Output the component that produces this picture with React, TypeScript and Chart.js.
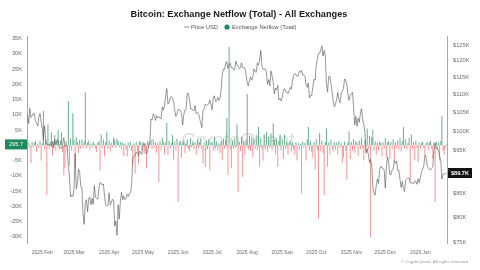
import React, { useEffect, useRef } from "react";
import { Chart, registerables } from "chart.js";

Chart.register(...registerables);

// Daily series, first day 2025-01-19
const START_DATE = "2025-01-19";
const MONTH_NAMES = ["Jan", "Feb", "Mar", "Apr", "May", "Jun", "Jul", "Aug", "Sep", "Oct", "Nov", "Dec"];
const TITLE = "Bitcoin: Exchange Netflow (Total) - All Exchanges";
const PRICE_LABEL = "Price USD";
const NETFLOW_LABEL = "Exchange Netflow (Total)";
const COPYRIGHT = "© CryptoQuant. All rights reserved";
const WATERMARK = "CryptoQuant";

// BTC price, thousand USD
const PRICE_USD_K = [
  // Jan 2025 (from 19th)
  104.4, 102.0, 106.1, 103.6, 104.0, 104.7, 104.7, 102.6, 102.1, 101.3, 103.7, 104.7, 102.4,
  // Feb
  100.6, 97.7, 101.4, 97.9, 96.6, 96.6, 96.5, 96.5, 96.1, 97.4, 95.7, 97.9, 96.6, 97.5,
  97.6, 96.1, 95.8, 95.5, 96.6, 98.3, 96.1, 96.5, 96.1, 91.5, 88.7, 84.3, 84.7, 84.4,
  // Mar
  86.0, 94.3, 86.1, 87.2, 90.6, 89.9, 86.7, 86.2, 80.7, 78.5, 82.9, 83.7, 81.1, 83.9, 84.3, 82.6,
  84.0, 82.7, 86.8, 84.2, 84.0, 83.8, 86.1, 87.5, 87.4, 86.9, 87.2, 84.4, 82.6, 82.3, 82.5,
  // Apr
  85.2, 82.5, 83.1, 83.8, 83.5, 78.2, 79.2, 76.3, 82.6, 79.6, 83.4, 85.3, 83.7, 84.5, 83.7,
  84.0, 84.9, 84.4, 85.1, 85.2, 87.5, 93.4, 93.7, 93.9, 94.7, 94.6, 93.8, 95.0, 94.3, 94.2,
  // May
  96.5, 96.9, 95.9, 94.3, 94.7, 96.8, 97.0, 103.2, 102.9, 104.6, 104.1, 102.8, 104.1, 103.5, 103.7, 103.5,
  103.2, 106.5, 105.6, 106.8, 109.7, 111.7, 107.3, 107.8, 109.0, 109.4, 108.9, 107.8, 105.6, 103.9, 104.6,
  // Jun
  105.7, 105.8, 105.4, 104.7, 101.6, 104.4, 105.6, 105.7, 110.3, 110.3, 108.7, 105.9, 106.0, 105.5, 105.5,
  106.8, 104.6, 104.9, 104.6, 103.3, 102.1, 100.9, 105.6, 106.0, 107.3, 106.9, 107.1, 107.3, 108.4, 107.1,
  // Jul
  105.7, 108.8, 109.6, 108.0, 108.2, 109.2, 108.3, 108.9, 111.3, 115.9, 117.5, 117.4, 119.1, 119.8, 117.7, 118.7,
  119.3, 117.9, 117.9, 117.3, 117.4, 119.9, 118.8, 118.3, 117.6, 117.9, 119.4, 118.0, 117.9, 117.8, 115.8,
  // Aug
  113.3, 112.5, 114.2, 115.1, 114.1, 115.0, 117.5, 116.7, 116.5, 119.3, 118.7, 120.2, 123.3, 118.4, 117.4, 117.5,
  117.5, 116.3, 112.9, 114.3, 112.5, 116.9, 115.4, 113.5, 110.1, 111.8, 111.3, 112.6, 108.4, 108.8, 108.2,
  // Sep
  109.2, 111.2, 111.7, 110.7, 110.7, 110.2, 111.1, 112.0, 111.5, 113.9, 115.5, 116.1, 115.9, 115.3, 115.4,
  116.8, 116.5, 117.1, 115.7, 115.7, 115.3, 112.7, 112.0, 113.3, 109.0, 109.7, 109.7, 112.1, 114.4, 114.1,
  // Oct
  118.6, 120.6, 122.3, 122.4, 123.5, 124.8, 121.5, 123.3, 121.7, 113.2, 110.7, 115.2, 115.3, 113.1, 110.8, 108.2,
  106.5, 107.2, 108.6, 110.6, 108.5, 107.6, 110.1, 111.0, 111.6, 114.5, 114.1, 112.9, 110.1, 108.3, 109.6,
  // Nov
  110.1, 110.6, 106.5, 101.6, 103.9, 101.3, 103.4, 102.3, 104.7, 106.0, 103.1, 101.7, 99.7, 94.4, 95.5,
  94.2, 92.2, 92.9, 91.5, 86.6, 85.1, 84.7, 86.8, 88.3, 87.3, 90.5, 91.3, 90.9, 90.8, 90.4,
  // Dec
  86.3, 91.3, 93.5, 92.1, 89.4, 89.3, 90.4, 90.6, 92.7, 92.0, 92.5, 90.3, 90.3, 88.2, 86.4, 87.8,
  86.1, 85.5, 88.1, 88.3, 88.6, 88.5, 87.5, 87.6, 87.2, 87.3, 87.8, 87.8, 87.1, 88.4, 87.5,
  // Jan 2026
  88.7, 90.0, 90.6, 91.4, 93.9, 93.7, 91.3, 91.0, 90.5, 90.4, 90.8, 91.2, 95.3, 97.0, 95.6, 95.5,
  95.1, 93.6, 92.6, 88.3, 89.4, 89.5, 89.5, 89.7,
];

// Exchange netflow, thousand BTC (positive = inflow)
const NETFLOW_K = [
  -1.2, 0.8, -0.9, -5.8, 1.1, -0.7, 0.9, 1.5, -2.3, 0.6,
  -1.0, 1.3, -5.0, 0.7, 11.3, -1.4, 1.8, -16.4, 6.8, -1.1,
  1.2, 4.3, -3.3, 0.9, 3.3, -1.8, 2.1, 4.9, -1.3, 1.6,
  4.3, -2.2, -9.8, -7.5, 1.4, -1.6, 14.5, -6.6, 2.2, -1.9,
  10.5, 1.8, -7.0, 2.6, 1.1, -2.5, 1.7, -1.2, 2.0, -0.8,
  1.3, 17.4, -1.0, 0.9, 1.6, -1.5, 0.7, -0.9, 1.2, 0.5,
  -1.1, -2.3, 0.8, 1.4, -8.2, 3.5, -0.9, 1.8, -3.7, 1.2,
  4.3, -1.2, 1.6, -2.0, 0.8, -0.7, 2.5, 1.9, -0.8, 2.2,
  1.4, -0.6, 1.1, -1.3, 0.9, -3.5, 0.6, -1.4, -3.7, 0.8,
  -0.9, 1.2, -1.8, -6.5, 0.7, -9.2, 1.0, -2.0, -6.0, 1.3,
  0.9, -1.5, 1.1, -2.8, 0.6, -7.6, 1.4, -1.0, 0.8, 1.7,
  -1.2, 2.0, -0.8, 1.0, -2.4, 0.7, -12.0, 1.3, -1.6, 2.4,
  1.0, -3.0, 0.9, 7.3, -3.2, 1.5, -1.1, 0.8, 3.3, -4.9,
  1.2, -1.7, 2.1, -18.6, 0.9, 1.4, -4.0, 0.8, 1.6, -2.5,
  0.7, 1.9, -1.1, -2.0, 2.4, -0.8, 1.3, -1.4, 0.9, -3.0,
  1.8, -0.9, 1.1, 2.3, -1.2, -6.0, 0.8, -7.0, 1.5, -1.3,
  2.0, -8.2, 0.9, 1.2, -1.5, 2.6, -0.9, 1.3, -1.6, 0.7,
  -2.5, 1.4, -5.0, 2.2, -1.1, 1.8, 8.9, -9.8, 32.2, -1.4,
  -7.5, 1.6, -1.2, 2.4, -0.8, 6.9, -15.3, 1.2, -1.9, 2.8,
  -10.4, 1.5, -3.0, 2.0, 16.8, -1.3, 3.1, -1.8, 2.6, -3.8,
  1.9, -1.2, 3.4, -1.5, 6.0, -7.0, 2.4, -1.1, -5.0, 3.6,
  -1.4, 4.4, -2.1, 2.8, -0.9, 3.9, -1.6, 7.2, 1.8, -3.0,
  2.2, -7.0, 1.4, 3.5, -1.8, 2.0, -4.5, 3.5, -1.2, 1.1,
  -3.0, 0.9, 1.6, -2.0, 0.8, -1.3, -3.0, 1.0, -5.0, 0.7,
  -1.6, 0.6, -15.8, 1.2, -1.0, 0.8, -5.0, 1.9, 6.0, -1.5,
  1.3, -2.2, -4.0, 1.0, -8.0, 2.1, -1.7, -24.0, 4.0, -1.9,
  1.5, -2.6, -16.4, 1.1, 5.5, -7.0, 0.9, -3.0, 1.8, -1.2,
  -2.0, 1.0, -1.4, 0.8, -3.0, 1.3, -0.9, 0.7, -5.7, -4.0,
  1.2, -1.8, -11.3, 0.9, 4.6, -4.5, 1.1, -1.6, 2.0, -2.4,
  1.4, 0.8, -3.5, 1.6, -1.3, 2.3, -0.9, -5.0, 1.8, -2.2,
  5.5, -1.4, 3.0, -30.0, 2.6, 5.0, -1.8, 1.3, -3.0, 0.9,
  -1.6, 1.2, 0.8, -3.5, 1.0, -1.2, 2.4, -4.0, 0.9, 1.4,
  -4.5, 1.1, -1.3, 2.0, -5.0, 0.8, -0.9, 1.6, -1.5, 2.2,
  -2.0, 1.3, 6.0, -1.1, 1.9, -1.4, 0.7, 2.4, -11.5, 3.5,
  -1.2, 1.0, -5.0, 1.5, -0.8, -5.5, 0.9, -1.3, 0.8, 1.2,
  -0.9, -3.5, 0.7, 1.1, -1.6, 0.9, 1.4, -1.2, -4.5, 0.8,
  -18.6, 1.2, -1.5, 0.9, -5.0, 1.4, 9.5, -1.8, -3.2, -1.0, 0.2957,
];

const NETFLOW_TICKS_K = [-30, -25, -20, -15, -10, -5, 0, 5, 10, 15, 20, 25, 30, 35];
const PRICE_TICKS_K = [75, 80, 85, 90, 95, 100, 105, 110, 115, 120, 125];

const FONT = '"Liberation Sans", Arial, Helvetica, sans-serif';
const GREEN = "rgba(58, 150, 108, 0.8)";
const RED = "rgba(236, 110, 110, 0.75)";
const LINE = "#505050";
const TICK_COLOR = "#6b6b6b";

function buildDays(start: string, count: number): Date[] {
  const out: Date[] = [];
  const base = new Date(start + "T00:00:00Z").getTime();
  for (let i = 0; i < count; i++) out.push(new Date(base + i * 86400000));
  return out;
}

const DAYS = buildDays(START_DATE, PRICE_USD_K.length);
const DAY_LABELS = DAYS.map((d) => d.toISOString().slice(0, 10));

const overlayPlugin = {
  id: "overlay",
  beforeDatasetsDraw(chart: any) {
    const { ctx, chartArea } = chart;
    ctx.save();
    ctx.font = `20px ${FONT}`;
    ctx.fillStyle = "rgba(150, 150, 150, 0.3)";
    ctx.textAlign = "center";
    ctx.textBaseline = "middle";
    ctx.fillText(WATERMARK, (chartArea.left + chartArea.right) / 2 + 1, 141);
    ctx.restore();
  },
  afterDraw(chart: any) {
    const { ctx } = chart;
    ctx.save();
    // title
    ctx.fillStyle = "#1a1a1a";
    ctx.font = `bold 9.2px ${FONT}`;
    ctx.textAlign = "center";
    ctx.textBaseline = "middle";
    ctx.fillText(TITLE, 239, 14);

    // legend
    ctx.font = `5.8px ${FONT}`;
    ctx.textAlign = "left";
    ctx.fillStyle = "#555";
    ctx.strokeStyle = "#777";
    ctx.lineWidth = 0.8;
    ctx.beginPath();
    ctx.moveTo(184, 27);
    ctx.lineTo(189.5, 27);
    ctx.stroke();
    ctx.fillText(PRICE_LABEL, 191, 27);
    ctx.fillStyle = "#1f8a5c";
    ctx.beginPath();
    ctx.arc(227, 27, 2.6, 0, Math.PI * 2);
    ctx.fill();
    ctx.fillStyle = "#555";
    ctx.fillText(NETFLOW_LABEL, 232, 27);

    // latest value boxes
    const yL = chart.scales.y;
    const yR = chart.scales.y1;
    const lastFlow = NETFLOW_K[NETFLOW_K.length - 1];
    const lastPrice = PRICE_USD_K[PRICE_USD_K.length - 1];
    const fy = yL.getPixelForValue(lastFlow);
    ctx.fillStyle = "#1f8a5c";
    ctx.fillRect(5, fy - 5, 22, 10);
    ctx.fillStyle = "#fff";
    ctx.font = `5.6px ${FONT}`;
    ctx.textAlign = "center";
    ctx.fillText((lastFlow * 1000).toFixed(1), 16, fy + 0.3);

    const py = yR.getPixelForValue(lastPrice);
    ctx.fillStyle = "#111";
    ctx.fillRect(448, py - 5, 24, 10);
    ctx.fillStyle = "#fff";
    ctx.font = `bold 5.6px ${FONT}`;
    ctx.fillText(`$${lastPrice.toFixed(1)}K`, 460, py + 0.3);

    // copyright
    ctx.fillStyle = "#9a9a9a";
    ctx.font = `4.4px ${FONT}`;
    ctx.textAlign = "right";
    ctx.fillText(COPYRIGHT, 468, 262);
    ctx.restore();
  },
};

export default function App() {
  const ref = useRef<HTMLCanvasElement | null>(null);

  useEffect(() => {
    if (!ref.current) return;
    const chart = new Chart(ref.current, {
      type: "bar",
      data: {
        labels: DAY_LABELS,
        datasets: [
          {
            type: "line",
            label: PRICE_LABEL,
            data: PRICE_USD_K,
            yAxisID: "y1",
            borderColor: LINE,
            borderWidth: 0.6,
            pointRadius: 0,
            tension: 0,
            order: 0,
          } as any,
          {
            type: "bar",
            label: NETFLOW_LABEL,
            data: NETFLOW_K,
            yAxisID: "y",
            backgroundColor: NETFLOW_K.map((v) => (v >= 0 ? GREEN : RED)),
            borderWidth: 0,
            barPercentage: 1,
            categoryPercentage: 0.85,
            order: 1,
          },
        ],
      },
      options: {
        responsive: false,
        animation: false,
        devicePixelRatio: 1,
        layout: { padding: { top: 36, left: 0, right: 0, bottom: 0 } },
        plugins: {
          legend: { display: false },
          title: { display: false },
          tooltip: { enabled: false },
        },
        scales: {
          x: {
            type: "category",
            offset: true,
            grid: { display: false, drawTicks: false },
            border: { display: false },
            ticks: {
              autoSkip: false,
              maxRotation: 0,
              minRotation: 0,
              padding: 7,
              color: TICK_COLOR,
              font: { size: 5, family: FONT },
              callback: (_v: any, i: number) => {
                const d = DAYS[i];
                if (!d || d.getUTCDate() !== 1) return null;
                return `${d.getUTCFullYear()} ${MONTH_NAMES[d.getUTCMonth()]}`;
              },
            },
            afterFit: (s: any) => {
              s.height = 27;
            },
          },
          y: {
            type: "linear",
            position: "left",
            min: -32,
            max: 35.8,
            grid: { display: false, drawTicks: false },
            border: { display: true, color: "#74c2a2", width: 1 },
            afterBuildTicks: (s: any) => {
              s.ticks = NETFLOW_TICKS_K.map((v) => ({ value: v }));
            },
            ticks: {
              padding: 5,
              color: TICK_COLOR,
              font: { size: 5.7, family: FONT },
              callback: (v: any) => `${v}K`,
            },
            afterFit: (s: any) => {
              s.width = 27;
            },
          },
          y1: {
            type: "logarithmic",
            position: "right",
            min: 74.8,
            max: 128,
            grid: { display: false, drawTicks: false },
            border: { display: true, color: "#a8a8a8", width: 1 },
            afterBuildTicks: (s: any) => {
              s.ticks = PRICE_TICKS_K.map((v) => ({ value: v }));
            },
            ticks: {
              padding: 6,
              color: TICK_COLOR,
              font: { size: 5.7, family: FONT },
              callback: (v: any) => `$${v}K`,
            },
            afterFit: (s: any) => {
              s.width = 33;
            },
          },
        },
      },
      plugins: [overlayPlugin],
    });
    return () => chart.destroy();
  }, []);

  return (
    <div style={{ position: "absolute", left: 0, top: 0, width: 480, height: 270, background: "#fff" }}>
      <canvas ref={ref} width={480} height={270} style={{ display: "block", width: 480, height: 270 }} />
    </div>
  );
}
